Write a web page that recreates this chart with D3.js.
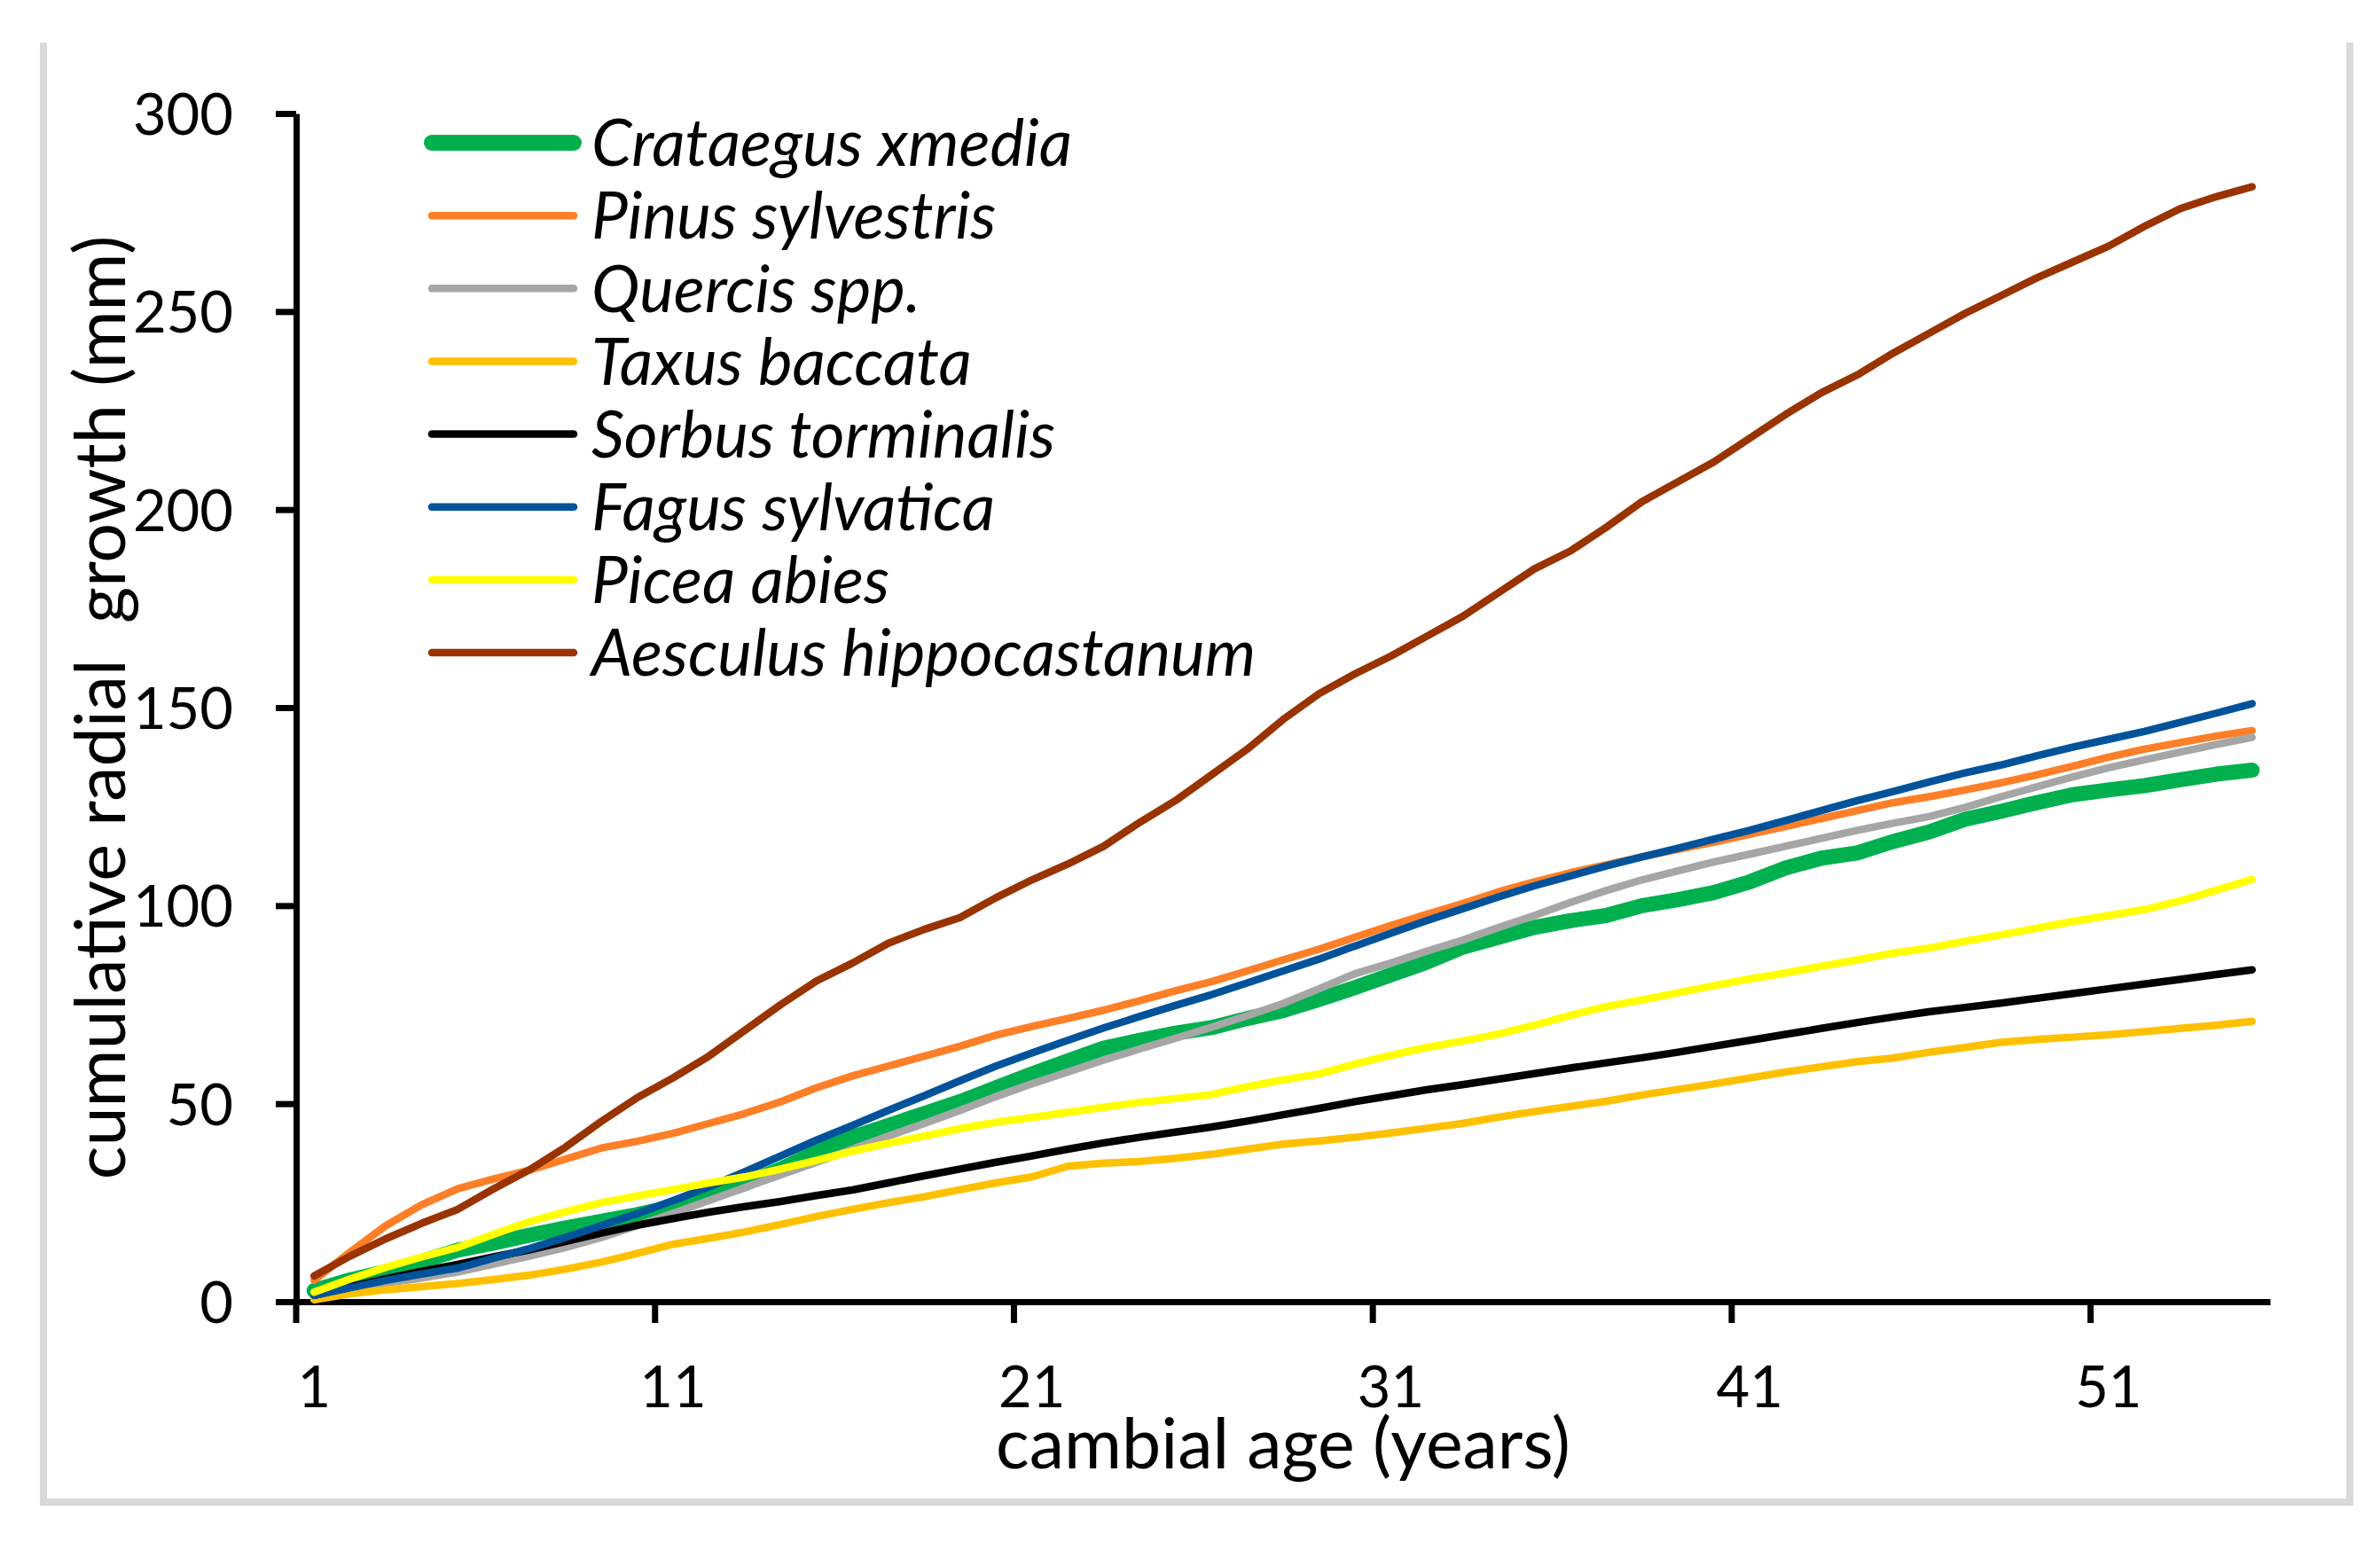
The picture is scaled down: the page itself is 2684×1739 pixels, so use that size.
<!DOCTYPE html>
<html>
<head>
<meta charset="utf-8">
<script src="https://cdn.jsdelivr.net/npm/d3@7"></script>
<style>
	body { margin: 0; background: #fff; }
	text { font-family: Lato, "Open Sans", sans-serif; fill: #000; }
</style>
</head>
<body>
<div id="chartDiv"></div>
<script>
// cambial age categories (years)
let years = [1,2,3,4,5,6,7,8,9,10,11,12,13,14,15,16,17,18,19,20,21,22,23,24,25,26,27,28,29,30,
	31,32,33,34,35,36,37,38,39,40,41,42,43,44,45,46,47,48,49,50,51,52,53,54,55]
let xTickLabels = [1, 11, 21, 31, 41, 51]
let yTicks = [0, 50, 100, 150, 200, 250, 300]

// cumulative radial growth (mm), one value per year
let crataegus = [2.8,5.5,7.6,10.2,13.0,14.8,16.8,18.6,20.3,22.0,24.0,26.8,29.8,33.5,37.8,41.5,44.5,47.5,50.5,54.0,
	57.5,60.8,64.0,66.0,67.8,69.2,71.5,73.5,76.3,79.3,82.5,85.7,89.5,92.0,94.5,96.2,97.5,100.0,101.5,103.3,
	106.0,109.5,112.0,113.3,116.2,118.6,121.8,123.8,126.0,128.0,129.2,130.3,131.8,133.2,134.2]
let pinus = [5.4,12.5,19.2,24.5,28.5,31.0,33.2,36.0,38.8,40.5,42.5,45.0,47.5,50.5,54.0,57.0,59.5,62.0,64.5,67.3,
	69.5,71.5,73.6,76.0,78.5,80.8,83.5,86.3,89.0,92.0,95.0,97.8,100.5,103.5,106.0,108.3,110.3,112.3,114.2,116.0,
	118.0,120.0,122.0,124.0,126.0,127.5,129.2,131.0,133.0,135.2,137.5,139.5,141.2,142.8,144.2]
let quercus = [1.6,3.0,4.7,6.0,7.5,9.5,11.5,13.7,16.2,19.2,22.3,25.5,28.8,32.0,35.2,38.5,41.8,45.0,48.3,51.8,
	55.0,58.0,61.0,63.8,66.5,69.3,72.2,75.3,79.0,82.8,85.5,88.5,91.3,94.5,97.5,100.8,103.8,106.5,108.8,111.0,
	113.0,115.0,117.0,119.0,120.8,122.5,124.8,127.5,130.0,132.5,134.8,136.8,138.8,140.7,142.5]
let taxus = [0.5,2.0,3.0,3.8,4.6,5.6,6.7,8.2,10.0,12.2,14.5,16.0,17.6,19.5,21.5,23.3,25.0,26.5,28.3,30.0,
	31.5,34.2,35.0,35.4,36.2,37.2,38.5,39.8,40.6,41.5,42.6,43.8,45.0,46.6,48.0,49.3,50.6,52.2,53.6,55.0,
	56.5,58.0,59.3,60.6,61.5,63.0,64.2,65.5,66.2,66.8,67.4,68.2,69.0,69.8,70.8]
let sorbus = [1.6,3.8,5.8,7.7,9.4,11.3,13.1,15.2,17.3,19.3,21.0,22.6,24.0,25.3,26.8,28.2,30.0,31.8,33.5,35.2,
	36.8,38.5,40.1,41.5,42.8,44.1,45.6,47.2,48.8,50.5,52.0,53.5,54.8,56.2,57.6,59.0,60.3,61.6,63.0,64.5,
	66.0,67.5,69.0,70.5,71.9,73.2,74.3,75.4,76.6,77.8,79.0,80.2,81.4,82.6,83.8]
let fagus = [1.6,3.5,5.4,7.0,8.5,11.0,13.4,16.2,19.2,22.2,25.5,29.0,32.8,36.8,40.8,44.5,48.3,52.0,55.8,59.5,
	62.8,66.0,69.1,72.0,74.8,77.5,80.5,83.5,86.5,89.8,93.0,96.2,99.2,102.2,105.0,107.5,110.0,112.3,114.5,116.8,
	119.0,121.5,124.0,126.5,128.8,131.2,133.5,135.5,137.8,140.0,142.0,144.0,146.3,148.6,151.0]
let picea = [2.4,5.7,8.7,11.3,13.7,17.0,20.2,22.7,25.0,26.7,28.3,30.0,31.5,33.5,35.7,38.0,40.0,41.8,43.7,45.3,
	46.5,47.8,49.1,50.3,51.3,52.3,54.3,56.0,57.5,60.0,62.2,64.2,65.8,67.6,69.8,72.3,74.5,76.2,78.0,79.8,
	81.5,83.0,84.7,86.3,88.0,89.3,91.0,92.6,94.3,96.0,97.5,99.0,101.2,103.9,106.6]
let aesculus = [6.5,11.5,15.9,19.8,23.3,28.5,33.3,39.0,45.5,51.5,56.5,62.0,68.5,75.0,81.0,85.5,90.5,94.0,97.0,102.0,
	106.5,110.5,115.0,121.0,126.5,133.0,139.5,147.0,153.5,158.5,163.0,168.0,173.0,179.0,185.0,189.5,195.5,202.0,207.0,212.0,
	218.0,224.0,229.5,234.0,239.5,244.5,249.5,254.0,258.5,262.5,266.5,271.5,276.0,279.0,281.5]

let seriesNames = ["Crataegus xmedia", "Pinus sylvestris", "Quercis spp.", "Taxus baccata",
	"Sorbus torminalis", "Fagus sylvatica", "Picea abies", "Aesculus hippocastanum"]
let seriesValues = [crataegus, pinus, quercus, taxus, sorbus, fagus, picea, aesculus]
let seriesColors = ["#00b04f", "#fe7f27", "#a6a6a6", "#ffc000", "#000000", "#00539b", "#ffff00", "#993300"]

let chartWidth = 2684
let chartHeight = 1739
let plotLeft = 334
let plotRight = 2560
let plotTop = 128
let plotBottom = 1468

let svg = d3.select("#chartDiv")
	.append("svg")
	.attr("width", chartWidth)
	.attr("height", chartHeight)

// light grey frame, open at the top
svg.append("path")
	.attr("d", "M49,48V1694H2650V48")
	.attr("fill", "none")
	.attr("stroke", "#d9d9d9")
	.attr("stroke-width", 8)

let x = d3.scaleBand()
	.domain(years)
	.range([plotLeft, plotRight])
	.padding(0)

let y = d3.scaleLinear()
	.domain([0, 300])
	.range([plotBottom, plotTop])

let bw = x.bandwidth()

// y axis
let yAxis = svg.append("g")
	.attr("transform", "translate(" + plotLeft + ",0)")
	.call(d3.axisLeft(y).tickValues(yTicks).tickSize(23).tickSizeOuter(0).tickPadding(48))
yAxis.select(".domain").attr("stroke-width", 7)
yAxis.selectAll(".tick line").attr("stroke-width", 7)
yAxis.selectAll(".tick text")
	.attr("font-size", 65)
	.attr("font-family", "Lato")
	.attr("dy", "0.36em")

// x axis: ticks between categories, labels centred on categories
let xAxis = svg.append("g")
	.attr("transform", "translate(0," + plotBottom + ")")
	.call(d3.axisBottom(x).tickValues(xTickLabels).tickSize(24).tickSizeOuter(0))
xAxis.select(".domain").attr("stroke-width", 7)
xAxis.selectAll(".tick line")
	.attr("stroke-width", 7)
	.attr("x1", -bw / 2)
	.attr("x2", -bw / 2)
xAxis.selectAll(".tick text")
	.attr("font-size", 65)
	.attr("font-family", "Lato")
	.attr("y", 119)
	.attr("dy", 0)

// axis titles
svg.append("text")
	.attr("x", (plotLeft + plotRight) / 2)
	.attr("y", 1656)
	.attr("text-anchor", "middle")
	.attr("font-size", 79)
	.text("cambial age (years)")

svg.append("text")
	.attr("transform", "translate(141," + (plotTop + plotBottom) / 2 + ") rotate(-90)")
	.attr("text-anchor", "middle")
	.attr("font-size", 79)
	.style("white-space", "pre")
	.text("cumulative radial  growth (mm)")

// lines
let line = d3.line()
	.x((d, i) => x(years[i]) + bw / 2)
	.y(d => y(d))

svg.selectAll(".series")
	.data(seriesValues)
	.enter()
	.append("path")
	.attr("class", "series")
	.attr("d", d => line(d))
	.attr("fill", "none")
	.attr("stroke", (d, i) => seriesColors[i])
	.attr("stroke-width", (d, i) => i == 0 ? 17 : 8.5)
	.attr("stroke-linejoin", "round")
	.attr("stroke-linecap", "round")

// legend
let legendY = d3.scaleLinear().domain([0, 7]).range([161, 736])

let legend = svg.selectAll(".legend")
	.data(seriesNames)
	.enter()
	.append("g")
	.attr("class", "legend")
	.attr("transform", (d, i) => "translate(0," + legendY(i) + ")")

legend.append("line")
	.attr("x1", 487)
	.attr("x2", 647)
	.attr("stroke", (d, i) => seriesColors[i])
	.attr("stroke-width", (d, i) => i == 0 ? 18 : 8.5)
	.attr("stroke-linecap", "round")

legend.append("text")
	.attr("x", 667)
	.attr("dy", "0.36em")
	.attr("font-size", 73)
	.attr("font-style", "italic")
	.text(d => d)
</script>
</body>
</html>
